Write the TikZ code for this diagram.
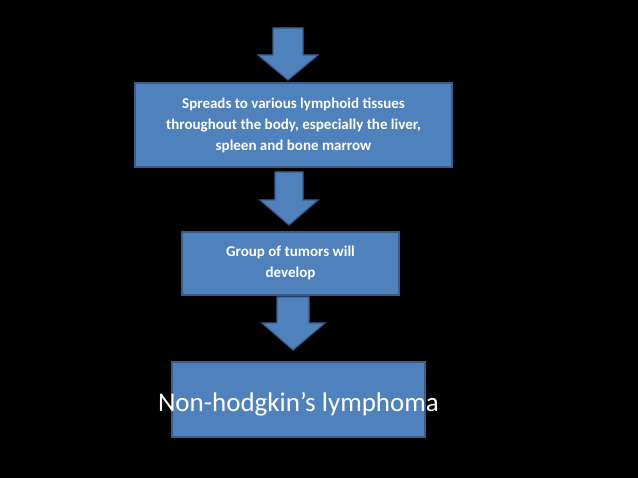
\documentclass[tikz,border=0pt]{standalone}
\usepackage{fontspec}
\setmainfont{Carlito}
\begin{document}
\begin{tikzpicture}[x=1pt,y=-1pt,
  blk/.style={fill={rgb,255:red,79;green,129;blue,189},draw={rgb,255:red,56;green,93;blue,138},line width=1.2pt},
  txt/.style={text=white,font=\bfseries\fontsize{15}{21}\selectfont,align=center}]
\fill[black] (0,0) rectangle (638,478);
\useasboundingbox (0,0) rectangle (638,478);
\draw[blk] (273,28) -- (303,28) -- (303,55) -- (318,55) -- (288,80) -- (258,55) -- (273,55) -- cycle;
\draw[blk] (135,83) rectangle (452,167);
\node[txt] (t1) at (293.5,125) {Spreads to various lymphoid tissues\\throughout the body, especially the liver,\\spleen and bone marrow};
\draw[blk] (275,172) -- (303,172) -- (303,200) -- (318,200) -- (289,225) -- (260,200) -- (275,200) -- cycle;
\draw[blk] (182,232) rectangle (399,295);
\node[txt] (t2) at (290.5,263) {Group of tumors will\\develop};
\draw[blk] (277,297) -- (309,297) -- (309,323) -- (325,323) -- (293,350) -- (262,323) -- (277,323) -- cycle;
\draw[blk] (172,362) rectangle (425,437);
\node[text=white,font=\fontsize{27}{30}\selectfont] (t3) at (298.5,404) {Non-hodgkin’s lymphoma};
\end{tikzpicture}
\end{document}
